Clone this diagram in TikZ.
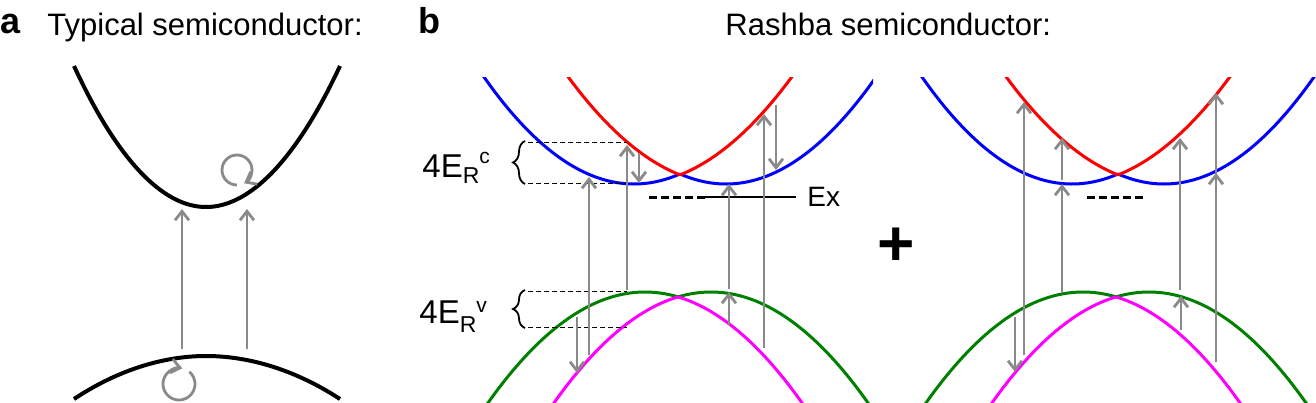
\documentclass[tikz,border=0pt]{standalone}
\usepackage{fontspec}
\setmainfont{Liberation Sans}
\usetikzlibrary{arrows.meta,decorations.pathreplacing}
\definecolor{arrgray}{RGB}{138,138,138}
\definecolor{bandgreen}{RGB}{0,128,0}
\definecolor{bandmag}{RGB}{255,0,255}
\newcommand{\fsz}[1]{\fontsize{#1pt}{#1pt}\selectfont}
\tikzset{
  band/.style={line width=1.5pt},
  trans/.style={arrgray,line width=1.4pt,->},
  guide/.style={line width=0.5pt,dash pattern=on 2.5pt off 1.5pt},
  exciton/.style={line width=1.5pt,dash pattern=on 4pt off 2pt},
  lbl/.style={inner sep=0pt,anchor=base west},
  curly/.style={line width=0.9pt,decorate,decoration={brace,amplitude=6pt}},
}
\begin{document}
\begin{tikzpicture}[x=0.5pt,y=-0.5pt,>={Straight Barb[length=4.5pt,width=7pt]}]
\useasboundingbox (0,0) rectangle (1316,402);
% a
\node[lbl,font=\fsz{18}\bfseries] (tagA) at (0,33) {a};
\node[lbl,font=\fsz{15.5}] (titleA) at (47,35) {Typical semiconductor:};
\draw[line width=2pt] (74,66) parabola bend (206,207) (340,66);
\draw[line width=2pt] (74,399) parabola bend (206,356) (340,399);
\draw[trans] (182,349)--(182,209);
\draw[trans] (247,349)--(247,209);
\draw[trans] (237,170)++(90:15) arc[start angle=90,end angle=422,radius=15];
\draw[trans] (179,384)++(-50:16) arc[start angle=-50,end angle=282,radius=16];
% b
\node[lbl,font=\fsz{18}\bfseries] (tagB) at (418,33) {b};
\node[lbl,font=\fsz{15.5}] (titleB) at (725,35) {Rashba semiconductor:};
\foreach \s/\r in {0/873,438/878}{
\begin{scope}[shift={(\s,0)}]
  \clip (478,77) rectangle (\r,402);
  \draw[band,blue] plot[domain=-165:46,samples=60] ({634+\x},{184-(\x/14.5)^2});
  \draw[band,blue] plot[domain=-46:165,samples=60] ({726+\x},{184-(\x/14.5)^2});
  \draw[band,red] plot[domain=-170:-46,samples=40] ({726+\x},{184-(\x/15.25)^2});
  \draw[band,red] plot[domain=46:170,samples=40] ({634+\x},{184-(\x/15.25)^2});
  \draw[band,bandgreen] plot[domain=-170:33,samples=60] ({645+\x},{292+(\x/14.91)^2});
  \draw[band,bandgreen] plot[domain=-33:170,samples=60] ({711+\x},{292+(\x/14.91)^2});
  \draw[band,bandmag] plot[domain=-170:-33,samples=40] ({711+\x},{292+(\x/14.91)^2});
  \draw[band,bandmag] plot[domain=33:170,samples=40] ({645+\x},{292+(\x/14.91)^2});
\end{scope}}
\draw[guide] (528,142)--(627,142) (528,183)--(627,183);
\draw[guide] (528,291)--(627,291) (528,327)--(627,327);
\draw[curly] (525,184)--(525,141);
\draw[curly] (525,328)--(525,290);
\node[lbl,font=\fsz{16.5}] (erc) at (422,177)
  {4E\raisebox{-3pt}{\fsz{11.5}R}\raisebox{7pt}{\fsz{10.5}c}};
\node[lbl,font=\fsz{16.5}] (erv) at (419,323)
  {4E\raisebox{-4.5pt}{\fsz{11.5}R}\raisebox{5.5pt}{\fsz{10.5}v}};
\node[inner sep=0pt,anchor=west,font=\fsz{14}] (ex) at (807,197) {Ex};
\draw[exciton] (649,197)--(705,197);
\draw[line width=0.6pt,shorten >=5.5pt] (705,197)--(ex.west);
\draw[trans] (589,355)--(589,177);
\draw[trans] (627,290)--(627,145);
\draw[trans] (639,153)--(639,183);
\draw[trans] (729,289)--(729,184);
\draw[trans] (729,325)--(729,292);
\draw[trans] (764,348)--(764,114);
\draw[trans] (776,105)--(776,170);
\draw[trans] (577,317)--(577,373);
\node[font=\fsz{32}\bfseries,anchor=base,inner sep=0pt] (plus) at (896,265) {+};
\draw[exciton] (1087,197)--(1143,197);
\draw[trans] (1024,355)--(1024,102);
\draw[trans] (1015,317)--(1015,372);
\draw[trans] (1062,180)--(1062,138);
\draw[trans] (1062,293)--(1062,184);
\draw[trans] (1180,290)--(1180,138);
\draw[trans] (1181,330)--(1181,296);
\draw[trans] (1216,362)--(1216,173);
\draw[trans] (1216,175)--(1216,93);
\end{tikzpicture}
\end{document}
